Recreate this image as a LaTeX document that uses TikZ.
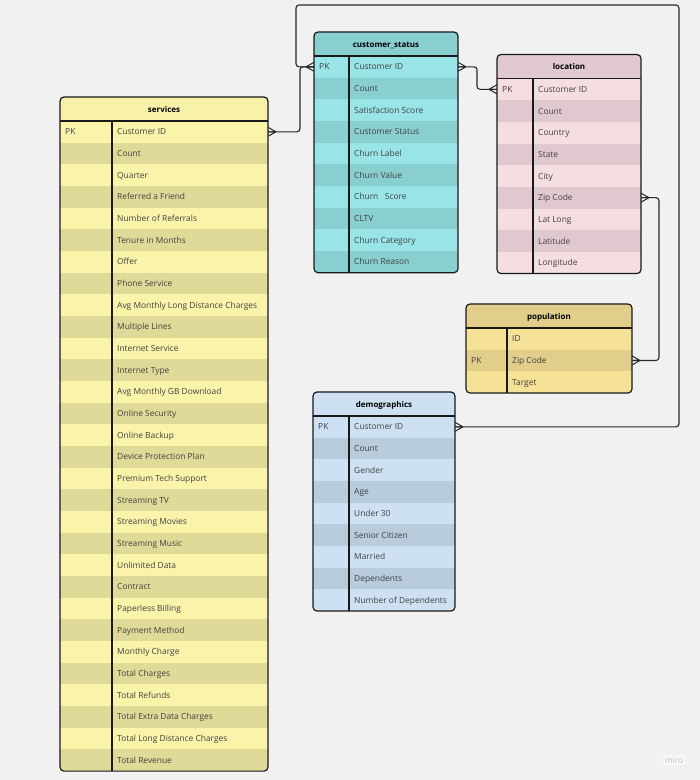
\documentclass[tikz,border=0pt]{standalone}
\usepackage{fontspec}
\setmainfont{Open Sans}
\usetikzlibrary{calc}
\definecolor{bg}{RGB}{241,241,241}
\definecolor{txtgrey}{RGB}{66,66,66}
\definecolor{linegrey}{RGB}{40,40,40}
\definecolor{svcL}{RGB}{249,244,170}
\definecolor{svcD}{RGB}{223,218,152}
\definecolor{svcH}{RGB}{247,242,168}
\definecolor{csL}{RGB}{152,228,230}
\definecolor{csD}{RGB}{137,207,208}
\definecolor{csH}{RGB}{137,207,208}
\definecolor{locL}{RGB}{245,222,226}
\definecolor{locD}{RGB}{224,201,206}
\definecolor{locH}{RGB}{224,201,206}
\definecolor{popL}{RGB}{245,226,150}
\definecolor{popD}{RGB}{224,206,138}
\definecolor{popH}{RGB}{224,206,138}
\definecolor{demL}{RGB}{205,225,242}
\definecolor{demD}{RGB}{184,204,219}
\definecolor{demH}{RGB}{205,225,242}
\tikzset{
  rowtext/.style={font=\fontsize{8.4}{10}\selectfont, text=txtgrey, inner sep=0pt, anchor=base west},
  headtext/.style={font=\fontsize{8}{10}\selectfont\bfseries, text=black, inner sep=0pt, anchor=base},
  tabline/.style={draw=black!90, line width=1.2pt},
  conn/.style={draw=linegrey, line width=1.1pt, rounded corners=3pt},
  crowline/.style={draw=linegrey, line width=1pt},
}
% #1 name, #2 left, #3 top, #4 right, #5 divider x, #6 title, #7 colour prefix, #8 PK row, #9 fields
\newcommand{\ertable}[9]{%
  \foreach \f [count=\i] in {#9} {\xdef\ernrows{\i}}
  \pgfmathsetmacro\erbot{#3+24+\ernrows*21.67}
  \begin{scope}
    \clip[rounded corners=4pt] (#2,#3) rectangle (#4,\erbot);
    \fill[#7H] (#2,#3) rectangle (#4,#3+24);
    \foreach \f [count=\i] in {#9} {
      \pgfmathsetmacro\ya{#3+24+(\i-1)*21.67}
      \pgfmathtruncatemacro\odd{mod(\i,2)}
      \ifnum\odd=1
        \fill[#7L] (#2,\ya) rectangle (#4,\ya+21.67);
      \else
        \fill[#7D] (#2,\ya) rectangle (#4,\ya+21.67);
      \fi
    }
  \end{scope}
  \foreach \f [count=\i] in {#9} {
    \pgfmathsetmacro\ym{#3+24+(\i-1)*21.67+10.8}
    \node[rowtext] (#1-f\i) at (#5+5,\ym+3.1) {\f};
    \coordinate (#1-w\i) at (#2,\ym);
    \coordinate (#1-e\i) at (#4,\ym);
    \ifnum\i=#8 \node[rowtext] (#1-pk) at (#2+5,\ym+3.1) {PK};\fi
  }
  \node[headtext] (#1-title) at ({(#2+#4)/2},#3+15) {#6};
  \draw[tabline] (#2,#3+24) -- (#4,#3+24);
  \draw[tabline] (#5,#3+24) -- (#5,\erbot);
  \draw[tabline, rounded corners=4pt] (#2,#3) rectangle (#4,\erbot);
}
% crow's foot: #1 point on table edge, #2 = +1 (lines go right) or -1 (go left)
\newcommand{\crowfoot}[2]{%
  \draw[crowline] ($(#1)+(#2*8,0)$) -- ($(#1)+(0,-4.5)$)
                  ($(#1)+(#2*8,0)$) -- (#1)
                  ($(#1)+(#2*8,0)$) -- ($(#1)+(0,4.5)$);
}
\begin{document}
\begin{tikzpicture}[x=1pt,y=-1pt]
\fill[bg] (0,0) rectangle (700,780);
\useasboundingbox (0,0) rectangle (700,780);

\ertable{svc}{60}{97}{268}{112}{services}{svc}{1}{Customer ID, Count, Quarter, Referred a Friend, Number of Referrals, Tenure in Months, Offer, Phone Service, Avg Monthly Long Distance Charges, Multiple Lines, Internet Service, Internet Type, Avg Monthly GB Download, Online Security, Online Backup, Device Protection Plan, Premium Tech Support, Streaming TV, Streaming Movies, Streaming Music, Unlimited Data, Contract, Paperless Billing, Payment Method, Monthly Charge, Total Charges, Total Refunds, Total Extra Data Charges, Total Long Distance Charges, Total Revenue}

\ertable{cs}{314}{32}{458}{349}{customer\_status}{cs}{1}{Customer ID, Count, Satisfaction Score, Customer Status, Churn Label, Churn Value, Churn\ \ \ Score, CLTV, Churn Category, Churn Reason}

\ertable{loc}{497}{54.5}{641}{533}{location}{loc}{1}{Customer ID, Count, Country, State, City, Zip Code, Lat Long, Latitude, Longitude}

\ertable{pop}{466}{304}{632}{507}{population}{pop}{2}{ID, Zip Code, Target}

\ertable{dem}{313}{392}{455}{349}{demographics}{dem}{1}{Customer ID, Count, Gender, Age, Under 30, Senior Citizen, Married, Dependents, Number of Dependents}

\coordinate (loopR) at (679,5);
\coordinate (loopL) at (296,5);

% services -> customer_status
\draw[conn] (svc-e1) -- ++(32,0) |- (cs-w1);
% demographics -> customer_status (outer loop)
\draw[conn] (dem-e1) -| (loopR) -- (loopL) |- (cs-w1);
% customer_status -> location
\draw[conn] (cs-e1) -- ++(19,0) |- (loc-w1);
% location -> population
\draw[conn] (loc-e6) -- ++(18,0) |- (pop-e2);

\crowfoot{svc-e1}{1}
\crowfoot{cs-w1}{-1}
\crowfoot{cs-e1}{1}
\crowfoot{loc-w1}{-1}
\crowfoot{loc-e6}{1}
\crowfoot{pop-e2}{1}
\crowfoot{dem-e1}{1}

\node[fill=white!50!bg, rounded corners=1pt, inner sep=2pt, text=black!25,
      font=\fontsize{8.5}{10}\selectfont] (miro) at (674,760) {miro};
\end{tikzpicture}
\end{document}
